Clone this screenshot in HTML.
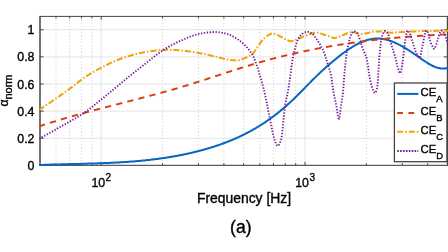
<!DOCTYPE html>
<html lang="en"><head><meta charset="utf-8"><title>Normalized absorption vs frequency</title>
<style>
html,body{margin:0;padding:0;background:#fff;}
body{width:448px;height:252px;overflow:hidden;position:relative;font-family:"Liberation Sans",sans-serif;}
svg text{font-family:"Liberation Sans",sans-serif;stroke:#000;stroke-width:0.35px;}
</style></head><body>
<svg width="448" height="252" style="position:absolute;left:0;top:0" font-family="'Liberation Sans', sans-serif" fill="#000">
<rect width="448" height="252" fill="#fff"/>
<line x1="55.99" x2="55.99" y1="16.2" y2="165.4" stroke="#d4d4d4" stroke-width="1" stroke-dasharray="1.2 2"/>
<line x1="69.63" x2="69.63" y1="16.2" y2="165.4" stroke="#d4d4d4" stroke-width="1" stroke-dasharray="1.2 2"/>
<line x1="81.45" x2="81.45" y1="16.2" y2="165.4" stroke="#d4d4d4" stroke-width="1" stroke-dasharray="1.2 2"/>
<line x1="91.88" x2="91.88" y1="16.2" y2="165.4" stroke="#d4d4d4" stroke-width="1" stroke-dasharray="1.2 2"/>
<line x1="162.56" x2="162.56" y1="16.2" y2="165.4" stroke="#d4d4d4" stroke-width="1" stroke-dasharray="1.2 2"/>
<line x1="198.46" x2="198.46" y1="16.2" y2="165.4" stroke="#d4d4d4" stroke-width="1" stroke-dasharray="1.2 2"/>
<line x1="223.92" x2="223.92" y1="16.2" y2="165.4" stroke="#d4d4d4" stroke-width="1" stroke-dasharray="1.2 2"/>
<line x1="243.67" x2="243.67" y1="16.2" y2="165.4" stroke="#d4d4d4" stroke-width="1" stroke-dasharray="1.2 2"/>
<line x1="259.81" x2="259.81" y1="16.2" y2="165.4" stroke="#d4d4d4" stroke-width="1" stroke-dasharray="1.2 2"/>
<line x1="273.46" x2="273.46" y1="16.2" y2="165.4" stroke="#d4d4d4" stroke-width="1" stroke-dasharray="1.2 2"/>
<line x1="285.28" x2="285.28" y1="16.2" y2="165.4" stroke="#d4d4d4" stroke-width="1" stroke-dasharray="1.2 2"/>
<line x1="295.71" x2="295.71" y1="16.2" y2="165.4" stroke="#d4d4d4" stroke-width="1" stroke-dasharray="1.2 2"/>
<line x1="366.39" x2="366.39" y1="16.2" y2="165.4" stroke="#d4d4d4" stroke-width="1" stroke-dasharray="1.2 2"/>
<line x1="402.28" x2="402.28" y1="16.2" y2="165.4" stroke="#d4d4d4" stroke-width="1" stroke-dasharray="1.2 2"/>
<line x1="427.75" x2="427.75" y1="16.2" y2="165.4" stroke="#d4d4d4" stroke-width="1" stroke-dasharray="1.2 2"/>
<line x1="101.21" x2="101.21" y1="16.2" y2="165.4" stroke="#e5e5e5" stroke-width="1"/>
<line x1="305.03" x2="305.03" y1="16.2" y2="165.4" stroke="#e5e5e5" stroke-width="1"/>
<line x1="39.9" x2="447.5" y1="138.27" y2="138.27" stroke="#e5e5e5" stroke-width="1"/>
<line x1="39.9" x2="447.5" y1="111.15" y2="111.15" stroke="#e5e5e5" stroke-width="1"/>
<line x1="39.9" x2="447.5" y1="84.02" y2="84.02" stroke="#e5e5e5" stroke-width="1"/>
<line x1="39.9" x2="447.5" y1="56.89" y2="56.89" stroke="#e5e5e5" stroke-width="1"/>
<line x1="39.9" x2="447.5" y1="29.76" y2="29.76" stroke="#e5e5e5" stroke-width="1"/>
<g stroke="#464646" fill="none">
<line x1="40.0" x2="40.0" y1="15.9" y2="165.9" stroke-width="1.5"/>
<line x1="39.9" x2="448.0" y1="16.4" y2="16.4" stroke-width="1"/>
<line x1="39.9" x2="448.0" y1="165.4" y2="165.4" stroke-width="1.1" stroke="#5c5c5c"/>
<line x1="447.5" x2="447.5" y1="16.2" y2="165.4" stroke-width="1.4"/>
<line x1="55.99" x2="55.99" y1="16.2" y2="18.4" stroke-width="1"/>
<line x1="55.99" x2="55.99" y1="165.4" y2="163.2" stroke-width="1"/>
<line x1="69.63" x2="69.63" y1="16.2" y2="18.4" stroke-width="1"/>
<line x1="69.63" x2="69.63" y1="165.4" y2="163.2" stroke-width="1"/>
<line x1="81.45" x2="81.45" y1="16.2" y2="18.4" stroke-width="1"/>
<line x1="81.45" x2="81.45" y1="165.4" y2="163.2" stroke-width="1"/>
<line x1="91.88" x2="91.88" y1="16.2" y2="18.4" stroke-width="1"/>
<line x1="91.88" x2="91.88" y1="165.4" y2="163.2" stroke-width="1"/>
<line x1="162.56" x2="162.56" y1="16.2" y2="18.4" stroke-width="1"/>
<line x1="162.56" x2="162.56" y1="165.4" y2="163.2" stroke-width="1"/>
<line x1="198.46" x2="198.46" y1="16.2" y2="18.4" stroke-width="1"/>
<line x1="198.46" x2="198.46" y1="165.4" y2="163.2" stroke-width="1"/>
<line x1="223.92" x2="223.92" y1="16.2" y2="18.4" stroke-width="1"/>
<line x1="223.92" x2="223.92" y1="165.4" y2="163.2" stroke-width="1"/>
<line x1="243.67" x2="243.67" y1="16.2" y2="18.4" stroke-width="1"/>
<line x1="243.67" x2="243.67" y1="165.4" y2="163.2" stroke-width="1"/>
<line x1="259.81" x2="259.81" y1="16.2" y2="18.4" stroke-width="1"/>
<line x1="259.81" x2="259.81" y1="165.4" y2="163.2" stroke-width="1"/>
<line x1="273.46" x2="273.46" y1="16.2" y2="18.4" stroke-width="1"/>
<line x1="273.46" x2="273.46" y1="165.4" y2="163.2" stroke-width="1"/>
<line x1="285.28" x2="285.28" y1="16.2" y2="18.4" stroke-width="1"/>
<line x1="285.28" x2="285.28" y1="165.4" y2="163.2" stroke-width="1"/>
<line x1="295.71" x2="295.71" y1="16.2" y2="18.4" stroke-width="1"/>
<line x1="295.71" x2="295.71" y1="165.4" y2="163.2" stroke-width="1"/>
<line x1="366.39" x2="366.39" y1="16.2" y2="18.4" stroke-width="1"/>
<line x1="366.39" x2="366.39" y1="165.4" y2="163.2" stroke-width="1"/>
<line x1="402.28" x2="402.28" y1="16.2" y2="18.4" stroke-width="1"/>
<line x1="402.28" x2="402.28" y1="165.4" y2="163.2" stroke-width="1"/>
<line x1="427.75" x2="427.75" y1="16.2" y2="18.4" stroke-width="1"/>
<line x1="427.75" x2="427.75" y1="165.4" y2="163.2" stroke-width="1"/>
<line x1="101.21" x2="101.21" y1="16.2" y2="19.7" stroke-width="1"/>
<line x1="101.21" x2="101.21" y1="165.4" y2="161.9" stroke-width="1"/>
<line x1="305.03" x2="305.03" y1="16.2" y2="19.7" stroke-width="1"/>
<line x1="305.03" x2="305.03" y1="165.4" y2="161.9" stroke-width="1"/>
<line x1="39.9" x2="43.6" y1="138.27" y2="138.27" stroke-width="1"/>
<line x1="447.5" x2="443.8" y1="138.27" y2="138.27" stroke-width="1"/>
<line x1="39.9" x2="43.6" y1="111.15" y2="111.15" stroke-width="1"/>
<line x1="447.5" x2="443.8" y1="111.15" y2="111.15" stroke-width="1"/>
<line x1="39.9" x2="43.6" y1="84.02" y2="84.02" stroke-width="1"/>
<line x1="447.5" x2="443.8" y1="84.02" y2="84.02" stroke-width="1"/>
<line x1="39.9" x2="43.6" y1="56.89" y2="56.89" stroke-width="1"/>
<line x1="447.5" x2="443.8" y1="56.89" y2="56.89" stroke-width="1"/>
<line x1="39.9" x2="43.6" y1="29.76" y2="29.76" stroke-width="1"/>
<line x1="447.5" x2="443.8" y1="29.76" y2="29.76" stroke-width="1"/>
</g>
<clipPath id="c"><rect x="39.4" y="15.2" width="409.1" height="151.8"/></clipPath>
<g clip-path="url(#c)" fill="none" stroke-width="2" stroke-linejoin="round">
<path d="M39.0 165.0 L39.5 165.0 L40.0 165.0 L40.5 165.0 L41.0 165.0 L41.5 164.9 L42.0 164.9 L42.5 164.9 L43.0 164.9 L43.5 164.9 L44.0 164.9 L44.5 164.8 L45.0 164.8 L45.5 164.8 L46.0 164.8 L46.5 164.8 L47.0 164.8 L47.5 164.7 L48.0 164.7 L48.5 164.7 L49.0 164.7 L49.5 164.7 L50.0 164.7 L50.5 164.6 L51.0 164.6 L51.5 164.6 L52.0 164.6 L52.5 164.6 L53.0 164.6 L53.5 164.5 L54.0 164.5 L54.5 164.5 L55.0 164.5 L55.5 164.5 L56.0 164.5 L56.5 164.5 L57.0 164.4 L57.5 164.4 L58.0 164.4 L58.5 164.4 L59.0 164.4 L59.5 164.4 L60.0 164.4 L60.5 164.4 L61.0 164.3 L61.5 164.3 L62.0 164.3 L62.5 164.3 L63.0 164.3 L63.5 164.3 L64.0 164.3 L64.5 164.3 L65.0 164.2 L65.5 164.2 L66.0 164.2 L66.5 164.2 L67.0 164.2 L67.5 164.2 L68.0 164.2 L68.5 164.2 L69.0 164.1 L69.5 164.1 L70.0 164.1 L70.5 164.1 L71.0 164.1 L71.5 164.1 L72.0 164.1 L72.5 164.1 L73.0 164.0 L73.5 164.0 L74.0 164.0 L74.5 164.0 L75.0 164.0 L75.5 164.0 L76.0 164.0 L76.5 164.0 L77.0 163.9 L77.5 163.9 L78.0 163.9 L78.5 163.9 L79.0 163.9 L79.5 163.9 L80.0 163.9 L80.5 163.9 L81.0 163.8 L81.5 163.8 L82.0 163.8 L82.5 163.8 L83.0 163.8 L83.5 163.8 L84.0 163.8 L84.5 163.7 L85.0 163.7 L85.5 163.7 L86.0 163.7 L86.5 163.7 L87.0 163.7 L87.5 163.7 L88.0 163.6 L88.5 163.6 L89.0 163.6 L89.5 163.6 L90.0 163.6 L90.5 163.6 L91.0 163.6 L91.5 163.5 L92.0 163.5 L92.5 163.5 L93.0 163.5 L93.5 163.5 L94.0 163.5 L94.5 163.5 L95.0 163.4 L95.5 163.4 L96.0 163.4 L96.5 163.4 L97.0 163.4 L97.5 163.4 L98.0 163.3 L98.5 163.3 L99.0 163.3 L99.5 163.3 L100.0 163.3 L100.5 163.2 L101.0 163.2 L101.5 163.2 L102.0 163.2 L102.5 163.2 L103.0 163.2 L103.5 163.1 L104.0 163.1 L104.5 163.1 L105.0 163.1 L105.5 163.1 L106.0 163.0 L106.5 163.0 L107.0 163.0 L107.5 163.0 L108.0 162.9 L108.5 162.9 L109.0 162.9 L109.5 162.9 L110.0 162.9 L110.5 162.8 L111.0 162.8 L111.5 162.8 L112.0 162.8 L112.5 162.7 L113.0 162.7 L113.5 162.7 L114.0 162.7 L114.5 162.6 L115.0 162.6 L115.5 162.6 L116.0 162.6 L116.5 162.5 L117.0 162.5 L117.5 162.5 L118.0 162.4 L118.5 162.4 L119.0 162.4 L119.5 162.4 L120.0 162.3 L120.5 162.3 L121.0 162.3 L121.5 162.2 L122.0 162.2 L122.5 162.2 L123.0 162.2 L123.5 162.1 L124.0 162.1 L124.5 162.1 L125.0 162.0 L125.5 162.0 L126.0 162.0 L126.5 161.9 L127.0 161.9 L127.5 161.9 L128.0 161.8 L128.5 161.8 L129.0 161.7 L129.5 161.7 L130.0 161.7 L130.5 161.6 L131.0 161.6 L131.5 161.6 L132.0 161.5 L132.5 161.5 L133.0 161.4 L133.5 161.4 L134.0 161.4 L134.5 161.3 L135.0 161.3 L135.5 161.2 L136.0 161.2 L136.5 161.2 L137.0 161.1 L137.5 161.1 L138.0 161.0 L138.5 161.0 L139.0 160.9 L139.5 160.9 L140.0 160.8 L140.5 160.8 L141.0 160.7 L141.5 160.7 L142.0 160.7 L142.5 160.6 L143.0 160.6 L143.5 160.5 L144.0 160.5 L144.5 160.4 L145.0 160.4 L145.5 160.3 L146.0 160.3 L146.5 160.2 L147.0 160.1 L147.5 160.1 L148.0 160.0 L148.5 160.0 L149.0 159.9 L149.5 159.9 L150.0 159.8 L150.5 159.8 L151.0 159.7 L151.5 159.6 L152.0 159.6 L152.5 159.5 L153.0 159.5 L153.5 159.4 L154.0 159.3 L154.5 159.3 L155.0 159.2 L155.5 159.2 L156.0 159.1 L156.5 159.0 L157.0 159.0 L157.5 158.9 L158.0 158.8 L158.5 158.8 L159.0 158.7 L159.5 158.6 L160.0 158.6 L160.5 158.5 L161.0 158.4 L161.5 158.3 L162.0 158.3 L162.5 158.2 L163.0 158.1 L163.5 158.1 L164.0 158.0 L164.5 157.9 L165.0 157.8 L165.5 157.8 L166.0 157.7 L166.5 157.6 L167.0 157.5 L167.5 157.5 L168.0 157.4 L168.5 157.3 L169.0 157.2 L169.5 157.1 L170.0 157.0 L170.5 157.0 L171.0 156.9 L171.5 156.8 L172.0 156.7 L172.5 156.6 L173.0 156.5 L173.5 156.5 L174.0 156.4 L174.5 156.3 L175.0 156.2 L175.5 156.1 L176.0 156.0 L176.5 155.9 L177.0 155.8 L177.5 155.7 L178.0 155.6 L178.5 155.5 L179.0 155.4 L179.5 155.3 L180.0 155.3 L180.5 155.2 L181.0 155.1 L181.5 155.0 L182.0 154.9 L182.5 154.8 L183.0 154.7 L183.5 154.5 L184.0 154.4 L184.5 154.3 L185.0 154.2 L185.5 154.1 L186.0 154.0 L186.5 153.9 L187.0 153.8 L187.5 153.7 L188.0 153.6 L188.5 153.5 L189.0 153.4 L189.5 153.3 L190.0 153.1 L190.5 153.0 L191.0 152.9 L191.5 152.8 L192.0 152.7 L192.5 152.6 L193.0 152.4 L193.5 152.3 L194.0 152.2 L194.5 152.1 L195.0 152.0 L195.5 151.8 L196.0 151.7 L196.5 151.6 L197.0 151.5 L197.5 151.3 L198.0 151.2 L198.5 151.1 L199.0 150.9 L199.5 150.8 L200.0 150.7 L200.5 150.6 L201.0 150.4 L201.5 150.3 L202.0 150.2 L202.5 150.0 L203.0 149.9 L203.5 149.7 L204.0 149.6 L204.5 149.5 L205.0 149.3 L205.5 149.2 L206.0 149.0 L206.5 148.9 L207.0 148.7 L207.5 148.6 L208.0 148.5 L208.5 148.3 L209.0 148.2 L209.5 148.0 L210.0 147.9 L210.5 147.7 L211.0 147.6 L211.5 147.4 L212.0 147.2 L212.5 147.1 L213.0 146.9 L213.5 146.8 L214.0 146.6 L214.5 146.4 L215.0 146.3 L215.5 146.1 L216.0 146.0 L216.5 145.8 L217.0 145.6 L217.5 145.5 L218.0 145.3 L218.5 145.1 L219.0 144.9 L219.5 144.8 L220.0 144.6 L220.5 144.4 L221.0 144.2 L221.5 144.1 L222.0 143.9 L222.5 143.7 L223.0 143.5 L223.5 143.3 L224.0 143.2 L224.5 143.0 L225.0 142.8 L225.5 142.6 L226.0 142.4 L226.5 142.2 L227.0 142.0 L227.5 141.8 L228.0 141.6 L228.5 141.4 L229.0 141.2 L229.5 141.0 L230.0 140.8 L230.5 140.6 L231.0 140.4 L231.5 140.2 L232.0 140.0 L232.5 139.8 L233.0 139.6 L233.5 139.4 L234.0 139.1 L234.5 138.9 L235.0 138.7 L235.5 138.5 L236.0 138.3 L236.5 138.1 L237.0 137.8 L237.5 137.6 L238.0 137.4 L238.5 137.1 L239.0 136.9 L239.5 136.7 L240.0 136.4 L240.5 136.2 L241.0 136.0 L241.5 135.7 L242.0 135.5 L242.5 135.2 L243.0 135.0 L243.5 134.8 L244.0 134.5 L244.5 134.3 L245.0 134.0 L245.5 133.7 L246.0 133.5 L246.5 133.2 L247.0 133.0 L247.5 132.7 L248.0 132.5 L248.5 132.2 L249.0 131.9 L249.5 131.6 L250.0 131.4 L250.5 131.1 L251.0 130.8 L251.5 130.6 L252.0 130.3 L252.5 130.0 L253.0 129.7 L253.5 129.4 L254.0 129.1 L254.5 128.8 L255.0 128.6 L255.5 128.3 L256.0 128.0 L256.5 127.7 L257.0 127.4 L257.5 127.1 L258.0 126.8 L258.5 126.5 L259.0 126.2 L259.5 125.8 L260.0 125.5 L260.5 125.2 L261.0 124.9 L261.5 124.6 L262.0 124.3 L262.5 123.9 L263.0 123.6 L263.5 123.3 L264.0 123.0 L264.5 122.6 L265.0 122.3 L265.5 122.0 L266.0 121.6 L266.5 121.3 L267.0 120.9 L267.5 120.6 L268.0 120.2 L268.5 119.9 L269.0 119.5 L269.5 119.2 L270.0 118.8 L270.5 118.5 L271.0 118.1 L271.5 117.7 L272.0 117.4 L272.5 117.0 L273.0 116.6 L273.5 116.3 L274.0 115.9 L274.5 115.5 L275.0 115.1 L275.5 114.7 L276.0 114.4 L276.5 114.0 L277.0 113.6 L277.5 113.2 L278.0 112.8 L278.5 112.4 L279.0 112.0 L279.5 111.6 L280.0 111.2 L280.5 110.8 L281.0 110.3 L281.5 109.9 L282.0 109.5 L282.5 109.1 L283.0 108.7 L283.5 108.3 L284.0 107.8 L284.5 107.4 L285.0 107.0 L285.5 106.5 L286.0 106.1 L286.5 105.6 L287.0 105.2 L287.5 104.8 L288.0 104.3 L288.5 103.9 L289.0 103.4 L289.5 102.9 L290.0 102.5 L290.5 102.0 L291.0 101.5 L291.5 101.1 L292.0 100.6 L292.5 100.1 L293.0 99.7 L293.5 99.2 L294.0 98.7 L294.5 98.2 L295.0 97.7 L295.5 97.2 L296.0 96.7 L296.5 96.2 L297.0 95.8 L297.5 95.3 L298.0 94.8 L298.5 94.3 L299.0 93.8 L299.5 93.2 L300.0 92.7 L300.5 92.2 L301.0 91.7 L301.5 91.2 L302.0 90.7 L302.5 90.2 L303.0 89.7 L303.5 89.2 L304.0 88.7 L304.5 88.2 L305.0 87.7 L305.5 87.1 L306.0 86.6 L306.5 86.1 L307.0 85.6 L307.5 85.1 L308.0 84.6 L308.5 84.1 L309.0 83.6 L309.5 83.1 L310.0 82.6 L310.5 82.1 L311.0 81.5 L311.5 81.0 L312.0 80.5 L312.5 80.0 L313.0 79.5 L313.5 79.0 L314.0 78.6 L314.5 78.1 L315.0 77.6 L315.5 77.1 L316.0 76.6 L316.5 76.1 L317.0 75.6 L317.5 75.1 L318.0 74.7 L318.5 74.2 L319.0 73.7 L319.5 73.2 L320.0 72.8 L320.5 72.3 L321.0 71.8 L321.5 71.4 L322.0 70.9 L322.5 70.4 L323.0 70.0 L323.5 69.5 L324.0 69.1 L324.5 68.6 L325.0 68.2 L325.5 67.7 L326.0 67.3 L326.5 66.8 L327.0 66.4 L327.5 65.9 L328.0 65.5 L328.5 65.1 L329.0 64.6 L329.5 64.2 L330.0 63.8 L330.5 63.3 L331.0 62.9 L331.5 62.5 L332.0 62.1 L332.5 61.6 L333.0 61.2 L333.5 60.8 L334.0 60.4 L334.5 60.0 L335.0 59.6 L335.5 59.2 L336.0 58.8 L336.5 58.4 L337.0 58.0 L337.5 57.6 L338.0 57.2 L338.5 56.8 L339.0 56.4 L339.5 56.0 L340.0 55.6 L340.5 55.2 L341.0 54.8 L341.5 54.4 L342.0 54.0 L342.5 53.7 L343.0 53.3 L343.5 52.9 L344.0 52.6 L344.5 52.2 L345.0 51.8 L345.5 51.5 L346.0 51.1 L346.5 50.8 L347.0 50.4 L347.5 50.1 L348.0 49.7 L348.5 49.4 L349.0 49.1 L349.5 48.7 L350.0 48.4 L350.5 48.1 L351.0 47.8 L351.5 47.5 L352.0 47.2 L352.5 46.8 L353.0 46.5 L353.5 46.2 L354.0 46.0 L354.5 45.7 L355.0 45.4 L355.5 45.1 L356.0 44.8 L356.5 44.6 L357.0 44.3 L357.5 44.0 L358.0 43.8 L358.5 43.5 L359.0 43.3 L359.5 43.1 L360.0 42.8 L360.5 42.6 L361.0 42.4 L361.5 42.2 L362.0 41.9 L362.5 41.7 L363.0 41.5 L363.5 41.3 L364.0 41.2 L364.5 41.0 L365.0 40.8 L365.5 40.6 L366.0 40.5 L366.5 40.3 L367.0 40.1 L367.5 40.0 L368.0 39.9 L368.5 39.7 L369.0 39.6 L369.5 39.5 L370.0 39.4 L370.5 39.3 L371.0 39.2 L371.5 39.1 L372.0 39.0 L372.5 38.9 L373.0 38.8 L373.5 38.8 L374.0 38.7 L374.5 38.7 L375.0 38.6 L375.5 38.6 L376.0 38.6 L376.5 38.5 L377.0 38.5 L377.5 38.5 L378.0 38.5 L378.5 38.5 L379.0 38.6 L379.5 38.6 L380.0 38.6 L380.5 38.7 L381.0 38.7 L381.5 38.8 L382.0 38.8 L382.5 38.9 L383.0 39.0 L383.5 39.1 L384.0 39.2 L384.5 39.3 L385.0 39.4 L385.5 39.5 L386.0 39.6 L386.5 39.7 L387.0 39.8 L387.5 40.0 L388.0 40.1 L388.5 40.3 L389.0 40.4 L389.5 40.6 L390.0 40.7 L390.5 40.9 L391.0 41.1 L391.5 41.3 L392.0 41.5 L392.5 41.7 L393.0 41.9 L393.5 42.1 L394.0 42.3 L394.5 42.5 L395.0 42.7 L395.5 42.9 L396.0 43.2 L396.5 43.4 L397.0 43.6 L397.5 43.9 L398.0 44.1 L398.5 44.4 L399.0 44.6 L399.5 44.9 L400.0 45.1 L400.5 45.4 L401.0 45.7 L401.5 45.9 L402.0 46.2 L402.5 46.5 L403.0 46.8 L403.5 47.1 L404.0 47.4 L404.5 47.7 L405.0 48.0 L405.5 48.3 L406.0 48.6 L406.5 48.9 L407.0 49.2 L407.5 49.5 L408.0 49.8 L408.5 50.1 L409.0 50.4 L409.5 50.8 L410.0 51.1 L410.5 51.4 L411.0 51.8 L411.5 52.1 L412.0 52.4 L412.5 52.7 L413.0 53.1 L413.5 53.4 L414.0 53.8 L414.5 54.1 L415.0 54.4 L415.5 54.8 L416.0 55.1 L416.5 55.5 L417.0 55.8 L417.5 56.2 L418.0 56.5 L418.5 56.9 L419.0 57.2 L419.5 57.6 L420.0 57.9 L420.5 58.3 L421.0 58.6 L421.5 59.0 L422.0 59.3 L422.5 59.7 L423.0 60.0 L423.5 60.4 L424.0 60.7 L424.5 61.0 L425.0 61.4 L425.5 61.7 L426.0 62.0 L426.5 62.3 L427.0 62.7 L427.5 63.0 L428.0 63.3 L428.5 63.6 L429.0 63.9 L429.5 64.2 L430.0 64.5 L430.5 64.7 L431.0 65.0 L431.5 65.3 L432.0 65.5 L432.5 65.8 L433.0 66.0 L433.5 66.2 L434.0 66.5 L434.5 66.7 L435.0 66.9 L435.5 67.1 L436.0 67.3 L436.5 67.4 L437.0 67.6 L437.5 67.8 L438.0 67.9 L438.5 68.0 L439.0 68.1 L439.5 68.2 L440.0 68.3 L440.5 68.4 L441.0 68.5 L441.5 68.5 L442.0 68.6 L442.5 68.6 L443.0 68.6 L443.5 68.6 L444.0 68.6 L444.5 68.5 L445.0 68.5 L445.5 68.4 L446.0 68.3 L446.5 68.2 L447.0 68.1 L447.5 67.9 L448.0 67.8 L448.5 67.6 L449.0 67.4" stroke="#0666c2"/>
<path d="M39.0 126.4 L39.5 126.3 L40.0 126.1 L40.5 125.9 L41.0 125.8 L41.5 125.6 L42.0 125.4 L42.5 125.3 L43.0 125.1 L43.5 124.9 L44.0 124.8 L44.5 124.6 L45.0 124.5 L45.5 124.3 L46.0 124.1 L46.5 124.0 L47.0 123.8 L47.5 123.7 L48.0 123.5 L48.5 123.3 L49.0 123.2 L49.5 123.0 L50.0 122.9 L50.5 122.7 L51.0 122.5 L51.5 122.4 L52.0 122.2 L52.5 122.1 L53.0 121.9 L53.5 121.8 L54.0 121.6 L54.5 121.5 L55.0 121.3 L55.5 121.2 L56.0 121.0 L56.5 120.9 L57.0 120.7 L57.5 120.6 L58.0 120.4 L58.5 120.2 L59.0 120.1 L59.5 119.9 L60.0 119.8 L60.5 119.6 L61.0 119.5 L61.5 119.4 L62.0 119.2 L62.5 119.1 L63.0 118.9 L63.5 118.8 L64.0 118.6 L64.5 118.5 L65.0 118.3 L65.5 118.2 L66.0 118.0 L66.5 117.9 L67.0 117.7 L67.5 117.6 L68.0 117.5 L68.5 117.3 L69.0 117.2 L69.5 117.0 L70.0 116.9 L70.5 116.7 L71.0 116.6 L71.5 116.4 L72.0 116.3 L72.5 116.2 L73.0 116.0 L73.5 115.9 L74.0 115.7 L74.5 115.6 L75.0 115.5 L75.5 115.3 L76.0 115.2 L76.5 115.0 L77.0 114.9 L77.5 114.8 L78.0 114.6 L78.5 114.5 L79.0 114.3 L79.5 114.2 L80.0 114.1 L80.5 113.9 L81.0 113.8 L81.5 113.7 L82.0 113.5 L82.5 113.4 L83.0 113.3 L83.5 113.1 L84.0 113.0 L84.5 112.8 L85.0 112.7 L85.5 112.6 L86.0 112.4 L86.5 112.3 L87.0 112.2 L87.5 112.0 L88.0 111.9 L88.5 111.8 L89.0 111.6 L89.5 111.5 L90.0 111.4 L90.5 111.2 L91.0 111.1 L91.5 111.0 L92.0 110.8 L92.5 110.7 L93.0 110.6 L93.5 110.4 L94.0 110.3 L94.5 110.2 L95.0 110.0 L95.5 109.9 L96.0 109.8 L96.5 109.6 L97.0 109.5 L97.5 109.4 L98.0 109.2 L98.5 109.1 L99.0 109.0 L99.5 108.9 L100.0 108.7 L100.5 108.6 L101.0 108.5 L101.5 108.3 L102.0 108.2 L102.5 108.1 L103.0 107.9 L103.5 107.8 L104.0 107.7 L104.5 107.6 L105.0 107.4 L105.5 107.3 L106.0 107.2 L106.5 107.0 L107.0 106.9 L107.5 106.8 L108.0 106.6 L108.5 106.5 L109.0 106.4 L109.5 106.3 L110.0 106.1 L110.5 106.0 L111.0 105.9 L111.5 105.7 L112.0 105.6 L112.5 105.5 L113.0 105.4 L113.5 105.2 L114.0 105.1 L114.5 105.0 L115.0 104.8 L115.5 104.7 L116.0 104.6 L116.5 104.5 L117.0 104.3 L117.5 104.2 L118.0 104.1 L118.5 104.0 L119.0 103.8 L119.5 103.7 L120.0 103.6 L120.5 103.4 L121.0 103.3 L121.5 103.2 L122.0 103.1 L122.5 102.9 L123.0 102.8 L123.5 102.7 L124.0 102.5 L124.5 102.4 L125.0 102.3 L125.5 102.2 L126.0 102.0 L126.5 101.9 L127.0 101.8 L127.5 101.6 L128.0 101.5 L128.5 101.4 L129.0 101.3 L129.5 101.1 L130.0 101.0 L130.5 100.9 L131.0 100.7 L131.5 100.6 L132.0 100.5 L132.5 100.4 L133.0 100.2 L133.5 100.1 L134.0 100.0 L134.5 99.8 L135.0 99.7 L135.5 99.6 L136.0 99.5 L136.5 99.3 L137.0 99.2 L137.5 99.1 L138.0 98.9 L138.5 98.8 L139.0 98.7 L139.5 98.6 L140.0 98.4 L140.5 98.3 L141.0 98.2 L141.5 98.0 L142.0 97.9 L142.5 97.8 L143.0 97.6 L143.5 97.5 L144.0 97.4 L144.5 97.2 L145.0 97.1 L145.5 97.0 L146.0 96.9 L146.5 96.7 L147.0 96.6 L147.5 96.5 L148.0 96.3 L148.5 96.2 L149.0 96.1 L149.5 95.9 L150.0 95.8 L150.5 95.7 L151.0 95.5 L151.5 95.4 L152.0 95.3 L152.5 95.1 L153.0 95.0 L153.5 94.9 L154.0 94.7 L154.5 94.6 L155.0 94.5 L155.5 94.3 L156.0 94.2 L156.5 94.1 L157.0 93.9 L157.5 93.8 L158.0 93.6 L158.5 93.5 L159.0 93.4 L159.5 93.2 L160.0 93.1 L160.5 93.0 L161.0 92.8 L161.5 92.7 L162.0 92.6 L162.5 92.4 L163.0 92.3 L163.5 92.1 L164.0 92.0 L164.5 91.9 L165.0 91.7 L165.5 91.6 L166.0 91.4 L166.5 91.3 L167.0 91.2 L167.5 91.0 L168.0 90.9 L168.5 90.7 L169.0 90.6 L169.5 90.5 L170.0 90.3 L170.5 90.2 L171.0 90.0 L171.5 89.9 L172.0 89.8 L172.5 89.6 L173.0 89.5 L173.5 89.3 L174.0 89.2 L174.5 89.0 L175.0 88.9 L175.5 88.7 L176.0 88.6 L176.5 88.5 L177.0 88.3 L177.5 88.2 L178.0 88.0 L178.5 87.9 L179.0 87.7 L179.5 87.6 L180.0 87.4 L180.5 87.3 L181.0 87.1 L181.5 87.0 L182.0 86.8 L182.5 86.7 L183.0 86.5 L183.5 86.4 L184.0 86.2 L184.5 86.1 L185.0 85.9 L185.5 85.8 L186.0 85.6 L186.5 85.5 L187.0 85.3 L187.5 85.2 L188.0 85.0 L188.5 84.9 L189.0 84.7 L189.5 84.6 L190.0 84.4 L190.5 84.2 L191.0 84.1 L191.5 83.9 L192.0 83.8 L192.5 83.6 L193.0 83.5 L193.5 83.3 L194.0 83.1 L194.5 83.0 L195.0 82.8 L195.5 82.7 L196.0 82.5 L196.5 82.4 L197.0 82.2 L197.5 82.0 L198.0 81.9 L198.5 81.7 L199.0 81.6 L199.5 81.4 L200.0 81.2 L200.5 81.1 L201.0 80.9 L201.5 80.8 L202.0 80.6 L202.5 80.4 L203.0 80.3 L203.5 80.1 L204.0 79.9 L204.5 79.8 L205.0 79.6 L205.5 79.5 L206.0 79.3 L206.5 79.1 L207.0 79.0 L207.5 78.8 L208.0 78.7 L208.5 78.5 L209.0 78.3 L209.5 78.2 L210.0 78.0 L210.5 77.8 L211.0 77.7 L211.5 77.5 L212.0 77.3 L212.5 77.2 L213.0 77.0 L213.5 76.9 L214.0 76.7 L214.5 76.5 L215.0 76.4 L215.5 76.2 L216.0 76.0 L216.5 75.9 L217.0 75.7 L217.5 75.5 L218.0 75.4 L218.5 75.2 L219.0 75.1 L219.5 74.9 L220.0 74.7 L220.5 74.6 L221.0 74.4 L221.5 74.2 L222.0 74.1 L222.5 73.9 L223.0 73.7 L223.5 73.6 L224.0 73.4 L224.5 73.3 L225.0 73.1 L225.5 72.9 L226.0 72.8 L226.5 72.6 L227.0 72.4 L227.5 72.3 L228.0 72.1 L228.5 71.9 L229.0 71.8 L229.5 71.6 L230.0 71.5 L230.5 71.3 L231.0 71.1 L231.5 71.0 L232.0 70.8 L232.5 70.7 L233.0 70.5 L233.5 70.3 L234.0 70.2 L234.5 70.0 L235.0 69.9 L235.5 69.7 L236.0 69.5 L236.5 69.4 L237.0 69.2 L237.5 69.1 L238.0 68.9 L238.5 68.7 L239.0 68.6 L239.5 68.4 L240.0 68.3 L240.5 68.1 L241.0 67.9 L241.5 67.8 L242.0 67.6 L242.5 67.5 L243.0 67.3 L243.5 67.2 L244.0 67.0 L244.5 66.9 L245.0 66.7 L245.5 66.5 L246.0 66.4 L246.5 66.2 L247.0 66.1 L247.5 65.9 L248.0 65.8 L248.5 65.6 L249.0 65.5 L249.5 65.3 L250.0 65.2 L250.5 65.0 L251.0 64.9 L251.5 64.7 L252.0 64.6 L252.5 64.4 L253.0 64.3 L253.5 64.1 L254.0 64.0 L254.5 63.8 L255.0 63.7 L255.5 63.5 L256.0 63.4 L256.5 63.2 L257.0 63.1 L257.5 62.9 L258.0 62.8 L258.5 62.7 L259.0 62.5 L259.5 62.4 L260.0 62.2 L260.5 62.1 L261.0 61.9 L261.5 61.8 L262.0 61.7 L262.5 61.5 L263.0 61.4 L263.5 61.2 L264.0 61.1 L264.5 61.0 L265.0 60.8 L265.5 60.7 L266.0 60.6 L266.5 60.4 L267.0 60.3 L267.5 60.1 L268.0 60.0 L268.5 59.9 L269.0 59.7 L269.5 59.6 L270.0 59.5 L270.5 59.3 L271.0 59.2 L271.5 59.1 L272.0 58.9 L272.5 58.8 L273.0 58.7 L273.5 58.5 L274.0 58.4 L274.5 58.3 L275.0 58.2 L275.5 58.0 L276.0 57.9 L276.5 57.8 L277.0 57.6 L277.5 57.5 L278.0 57.4 L278.5 57.3 L279.0 57.1 L279.5 57.0 L280.0 56.9 L280.5 56.8 L281.0 56.6 L281.5 56.5 L282.0 56.4 L282.5 56.3 L283.0 56.1 L283.5 56.0 L284.0 55.9 L284.5 55.8 L285.0 55.6 L285.5 55.5 L286.0 55.4 L286.5 55.3 L287.0 55.2 L287.5 55.0 L288.0 54.9 L288.5 54.8 L289.0 54.7 L289.5 54.6 L290.0 54.5 L290.5 54.3 L291.0 54.2 L291.5 54.1 L292.0 54.0 L292.5 53.9 L293.0 53.8 L293.5 53.6 L294.0 53.5 L294.5 53.4 L295.0 53.3 L295.5 53.2 L296.0 53.1 L296.5 53.0 L297.0 52.9 L297.5 52.7 L298.0 52.6 L298.5 52.5 L299.0 52.4 L299.5 52.3 L300.0 52.2 L300.5 52.1 L301.0 52.0 L301.5 51.9 L302.0 51.8 L302.5 51.7 L303.0 51.6 L303.5 51.4 L304.0 51.3 L304.5 51.2 L305.0 51.1 L305.5 51.0 L306.0 50.9 L306.5 50.8 L307.0 50.7 L307.5 50.6 L308.0 50.5 L308.5 50.4 L309.0 50.3 L309.5 50.2 L310.0 50.1 L310.5 50.0 L311.0 49.9 L311.5 49.8 L312.0 49.7 L312.5 49.6 L313.0 49.5 L313.5 49.4 L314.0 49.3 L314.5 49.2 L315.0 49.1 L315.5 49.0 L316.0 48.9 L316.5 48.8 L317.0 48.7 L317.5 48.6 L318.0 48.5 L318.5 48.4 L319.0 48.3 L319.5 48.2 L320.0 48.1 L320.5 48.0 L321.0 48.0 L321.5 47.9 L322.0 47.8 L322.5 47.7 L323.0 47.6 L323.5 47.5 L324.0 47.4 L324.5 47.3 L325.0 47.2 L325.5 47.1 L326.0 47.0 L326.5 47.0 L327.0 46.9 L327.5 46.8 L328.0 46.7 L328.5 46.6 L329.0 46.5 L329.5 46.4 L330.0 46.3 L330.5 46.3 L331.0 46.2 L331.5 46.1 L332.0 46.0 L332.5 45.9 L333.0 45.8 L333.5 45.7 L334.0 45.7 L334.5 45.6 L335.0 45.5 L335.5 45.4 L336.0 45.3 L336.5 45.2 L337.0 45.2 L337.5 45.1 L338.0 45.0 L338.5 44.9 L339.0 44.8 L339.5 44.8 L340.0 44.7 L340.5 44.6 L341.0 44.5 L341.5 44.4 L342.0 44.4 L342.5 44.3 L343.0 44.2 L343.5 44.1 L344.0 44.0 L344.5 44.0 L345.0 43.9 L345.5 43.8 L346.0 43.7 L346.5 43.7 L347.0 43.6 L347.5 43.5 L348.0 43.4 L348.5 43.4 L349.0 43.3 L349.5 43.2 L350.0 43.1 L350.5 43.1 L351.0 43.0 L351.5 42.9 L352.0 42.9 L352.5 42.8 L353.0 42.7 L353.5 42.6 L354.0 42.6 L354.5 42.5 L355.0 42.4 L355.5 42.4 L356.0 42.3 L356.5 42.2 L357.0 42.2 L357.5 42.1 L358.0 42.0 L358.5 42.0 L359.0 41.9 L359.5 41.8 L360.0 41.8 L360.5 41.7 L361.0 41.6 L361.5 41.6 L362.0 41.5 L362.5 41.4 L363.0 41.4 L363.5 41.3 L364.0 41.2 L364.5 41.2 L365.0 41.1 L365.5 41.0 L366.0 41.0 L366.5 40.9 L367.0 40.8 L367.5 40.8 L368.0 40.7 L368.5 40.7 L369.0 40.6 L369.5 40.5 L370.0 40.5 L370.5 40.4 L371.0 40.4 L371.5 40.3 L372.0 40.2 L372.5 40.2 L373.0 40.1 L373.5 40.1 L374.0 40.0 L374.5 39.9 L375.0 39.9 L375.5 39.8 L376.0 39.8 L376.5 39.7 L377.0 39.7 L377.5 39.6 L378.0 39.6 L378.5 39.5 L379.0 39.4 L379.5 39.4 L380.0 39.3 L380.5 39.3 L381.0 39.2 L381.5 39.2 L382.0 39.1 L382.5 39.1 L383.0 39.0 L383.5 39.0 L384.0 38.9 L384.5 38.9 L385.0 38.8 L385.5 38.7 L386.0 38.7 L386.5 38.6 L387.0 38.6 L387.5 38.5 L388.0 38.5 L388.5 38.4 L389.0 38.4 L389.5 38.3 L390.0 38.3 L390.5 38.2 L391.0 38.2 L391.5 38.2 L392.0 38.1 L392.5 38.1 L393.0 38.0 L393.5 38.0 L394.0 37.9 L394.5 37.9 L395.0 37.8 L395.5 37.8 L396.0 37.7 L396.5 37.7 L397.0 37.6 L397.5 37.6 L398.0 37.5 L398.5 37.5 L399.0 37.5 L399.5 37.4 L400.0 37.4 L400.5 37.3 L401.0 37.3 L401.5 37.2 L402.0 37.2 L402.5 37.2 L403.0 37.1 L403.5 37.1 L404.0 37.0 L404.5 37.0 L405.0 37.0 L405.5 36.9 L406.0 36.9 L406.5 36.8 L407.0 36.8 L407.5 36.8 L408.0 36.7 L408.5 36.7 L409.0 36.6 L409.5 36.6 L410.0 36.6 L410.5 36.5 L411.0 36.5 L411.5 36.4 L412.0 36.4 L412.5 36.4 L413.0 36.3 L413.5 36.3 L414.0 36.3 L414.5 36.2 L415.0 36.2 L415.5 36.1 L416.0 36.1 L416.5 36.1 L417.0 36.0 L417.5 36.0 L418.0 36.0 L418.5 35.9 L419.0 35.9 L419.5 35.9 L420.0 35.8 L420.5 35.8 L421.0 35.8 L421.5 35.7 L422.0 35.7 L422.5 35.7 L423.0 35.6 L423.5 35.6 L424.0 35.6 L424.5 35.5 L425.0 35.5 L425.5 35.5 L426.0 35.5 L426.5 35.4 L427.0 35.4 L427.5 35.4 L428.0 35.3 L428.5 35.3 L429.0 35.3 L429.5 35.2 L430.0 35.2 L430.5 35.2 L431.0 35.2 L431.5 35.1 L432.0 35.1 L432.5 35.1 L433.0 35.0 L433.5 35.0 L434.0 35.0 L434.5 35.0 L435.0 34.9 L435.5 34.9 L436.0 34.9 L436.5 34.9 L437.0 34.8 L437.5 34.8 L438.0 34.8 L438.5 34.8 L439.0 34.7 L439.5 34.7 L440.0 34.7 L440.5 34.7 L441.0 34.6 L441.5 34.6 L442.0 34.6 L442.5 34.6 L443.0 34.5 L443.5 34.5 L444.0 34.5 L444.5 34.5 L445.0 34.4 L445.5 34.4 L446.0 34.4 L446.5 34.4 L447.0 34.4 L447.5 34.3 L448.0 34.3 L448.5 34.3 L449.0 34.3" stroke="#d9400f" stroke-width="1.95" stroke-dasharray="6.3 5.2"/>
<path d="M39.0 110.0 L39.5 109.7 L40.0 109.3 L40.5 109.0 L41.0 108.7 L41.5 108.4 L42.0 108.0 L42.5 107.7 L43.0 107.4 L43.5 107.0 L44.0 106.7 L44.5 106.4 L45.0 106.0 L45.5 105.7 L46.0 105.4 L46.5 105.0 L47.0 104.7 L47.5 104.4 L48.0 104.0 L48.5 103.7 L49.0 103.3 L49.5 103.0 L50.0 102.7 L50.5 102.3 L51.0 102.0 L51.5 101.6 L52.0 101.3 L52.5 100.9 L53.0 100.6 L53.5 100.2 L54.0 99.9 L54.5 99.6 L55.0 99.2 L55.5 98.9 L56.0 98.5 L56.5 98.2 L57.0 97.8 L57.5 97.5 L58.0 97.1 L58.5 96.8 L59.0 96.4 L59.5 96.1 L60.0 95.7 L60.5 95.4 L61.0 95.0 L61.5 94.6 L62.0 94.3 L62.5 93.9 L63.0 93.6 L63.5 93.2 L64.0 92.9 L64.5 92.5 L65.0 92.2 L65.5 91.8 L66.0 91.4 L66.5 91.1 L67.0 90.7 L67.5 90.4 L68.0 90.0 L68.5 89.6 L69.0 89.3 L69.5 88.9 L70.0 88.5 L70.5 88.2 L71.0 87.8 L71.5 87.4 L72.0 87.0 L72.5 86.6 L73.0 86.2 L73.5 85.8 L74.0 85.5 L74.5 85.1 L75.0 84.7 L75.5 84.3 L76.0 83.9 L76.5 83.5 L77.0 83.1 L77.5 82.7 L78.0 82.3 L78.5 81.9 L79.0 81.5 L79.5 81.2 L80.0 80.8 L80.5 80.4 L81.0 80.0 L81.5 79.7 L82.0 79.3 L82.5 78.9 L83.0 78.6 L83.5 78.2 L84.0 77.9 L84.5 77.5 L85.0 77.2 L85.5 76.8 L86.0 76.5 L86.5 76.2 L87.0 75.9 L87.5 75.5 L88.0 75.2 L88.5 74.9 L89.0 74.6 L89.5 74.3 L90.0 74.0 L90.5 73.7 L91.0 73.4 L91.5 73.1 L92.0 72.8 L92.5 72.5 L93.0 72.2 L93.5 71.9 L94.0 71.6 L94.5 71.3 L95.0 71.1 L95.5 70.8 L96.0 70.5 L96.5 70.2 L97.0 69.9 L97.5 69.7 L98.0 69.4 L98.5 69.1 L99.0 68.8 L99.5 68.6 L100.0 68.3 L100.5 68.0 L101.0 67.8 L101.5 67.5 L102.0 67.2 L102.5 67.0 L103.0 66.7 L103.5 66.5 L104.0 66.2 L104.5 65.9 L105.0 65.7 L105.5 65.4 L106.0 65.2 L106.5 64.9 L107.0 64.7 L107.5 64.5 L108.0 64.2 L108.5 64.0 L109.0 63.7 L109.5 63.5 L110.0 63.3 L110.5 63.0 L111.0 62.8 L111.5 62.6 L112.0 62.3 L112.5 62.1 L113.0 61.9 L113.5 61.7 L114.0 61.5 L114.5 61.2 L115.0 61.0 L115.5 60.8 L116.0 60.6 L116.5 60.4 L117.0 60.2 L117.5 60.0 L118.0 59.8 L118.5 59.6 L119.0 59.4 L119.5 59.2 L120.0 59.0 L120.5 58.8 L121.0 58.6 L121.5 58.5 L122.0 58.3 L122.5 58.1 L123.0 57.9 L123.5 57.8 L124.0 57.6 L124.5 57.4 L125.0 57.2 L125.5 57.1 L126.0 56.9 L126.5 56.8 L127.0 56.6 L127.5 56.5 L128.0 56.3 L128.5 56.1 L129.0 56.0 L129.5 55.8 L130.0 55.7 L130.5 55.6 L131.0 55.4 L131.5 55.3 L132.0 55.1 L132.5 55.0 L133.0 54.8 L133.5 54.7 L134.0 54.6 L134.5 54.4 L135.0 54.3 L135.5 54.2 L136.0 54.0 L136.5 53.9 L137.0 53.8 L137.5 53.7 L138.0 53.5 L138.5 53.4 L139.0 53.3 L139.5 53.2 L140.0 53.1 L140.5 53.0 L141.0 52.9 L141.5 52.8 L142.0 52.7 L142.5 52.6 L143.0 52.5 L143.5 52.4 L144.0 52.3 L144.5 52.2 L145.0 52.1 L145.5 52.0 L146.0 51.9 L146.5 51.8 L147.0 51.8 L147.5 51.7 L148.0 51.6 L148.5 51.5 L149.0 51.4 L149.5 51.4 L150.0 51.3 L150.5 51.2 L151.0 51.2 L151.5 51.1 L152.0 51.0 L152.5 51.0 L153.0 50.9 L153.5 50.8 L154.0 50.8 L154.5 50.7 L155.0 50.7 L155.5 50.6 L156.0 50.6 L156.5 50.5 L157.0 50.5 L157.5 50.4 L158.0 50.4 L158.5 50.3 L159.0 50.3 L159.5 50.2 L160.0 50.2 L160.5 50.2 L161.0 50.1 L161.5 50.1 L162.0 50.1 L162.5 50.0 L163.0 50.0 L163.5 49.9 L164.0 49.9 L164.5 49.9 L165.0 49.9 L165.5 49.8 L166.0 49.8 L166.5 49.8 L167.0 49.8 L167.5 49.8 L168.0 49.8 L168.5 49.8 L169.0 49.8 L169.5 49.8 L170.0 49.8 L170.5 49.8 L171.0 49.9 L171.5 49.9 L172.0 49.9 L172.5 49.9 L173.0 49.9 L173.5 50.0 L174.0 50.0 L174.5 50.0 L175.0 50.0 L175.5 50.1 L176.0 50.1 L176.5 50.1 L177.0 50.1 L177.5 50.2 L178.0 50.2 L178.5 50.2 L179.0 50.3 L179.5 50.3 L180.0 50.3 L180.5 50.4 L181.0 50.4 L181.5 50.5 L182.0 50.5 L182.5 50.6 L183.0 50.6 L183.5 50.7 L184.0 50.7 L184.5 50.8 L185.0 50.9 L185.5 50.9 L186.0 51.0 L186.5 51.0 L187.0 51.1 L187.5 51.2 L188.0 51.2 L188.5 51.3 L189.0 51.4 L189.5 51.4 L190.0 51.5 L190.5 51.6 L191.0 51.6 L191.5 51.7 L192.0 51.8 L192.5 51.9 L193.0 51.9 L193.5 52.0 L194.0 52.1 L194.5 52.2 L195.0 52.3 L195.5 52.4 L196.0 52.4 L196.5 52.5 L197.0 52.6 L197.5 52.7 L198.0 52.8 L198.5 52.9 L199.0 53.0 L199.5 53.1 L200.0 53.2 L200.5 53.3 L201.0 53.4 L201.5 53.5 L202.0 53.6 L202.5 53.7 L203.0 53.8 L203.5 53.9 L204.0 54.0 L204.5 54.1 L205.0 54.2 L205.5 54.3 L206.0 54.4 L206.5 54.5 L207.0 54.6 L207.5 54.8 L208.0 54.9 L208.5 55.0 L209.0 55.1 L209.5 55.2 L210.0 55.3 L210.5 55.5 L211.0 55.6 L211.5 55.7 L212.0 55.8 L212.5 56.0 L213.0 56.1 L213.5 56.2 L214.0 56.3 L214.5 56.5 L215.0 56.6 L215.5 56.7 L216.0 56.8 L216.5 57.0 L217.0 57.1 L217.5 57.2 L218.0 57.4 L218.5 57.5 L219.0 57.6 L219.5 57.7 L220.0 57.8 L220.5 58.0 L221.0 58.1 L221.5 58.2 L222.0 58.3 L222.5 58.4 L223.0 58.6 L223.5 58.7 L224.0 58.8 L224.5 58.9 L225.0 59.0 L225.5 59.1 L226.0 59.2 L226.5 59.3 L227.0 59.5 L227.5 59.6 L228.0 59.7 L228.5 59.8 L229.0 59.9 L229.5 59.9 L230.0 60.0 L230.5 60.0 L231.0 60.1 L231.5 60.1 L232.0 60.2 L232.5 60.2 L233.0 60.2 L233.5 60.3 L234.0 60.3 L234.5 60.3 L235.0 60.3 L235.5 60.4 L236.0 60.4 L236.5 60.4 L237.0 60.4 L237.5 60.4 L238.0 60.4 L238.5 60.4 L239.0 60.3 L239.5 60.2 L240.0 60.1 L240.5 59.9 L241.0 59.7 L241.5 59.6 L242.0 59.3 L242.5 59.1 L243.0 58.9 L243.5 58.7 L244.0 58.5 L244.5 58.3 L245.0 58.1 L245.5 57.9 L246.0 57.7 L246.5 57.4 L247.0 57.2 L247.5 57.0 L248.0 56.7 L248.5 56.4 L249.0 56.2 L249.5 55.9 L250.0 55.6 L250.5 55.2 L251.0 54.9 L251.5 54.5 L252.0 54.1 L252.5 53.8 L253.0 53.3 L253.5 52.7 L254.0 52.1 L254.5 51.4 L255.0 50.7 L255.5 50.0 L256.0 49.2 L256.5 48.5 L257.0 47.7 L257.5 47.0 L258.0 46.3 L258.5 45.6 L259.0 44.8 L259.5 44.1 L260.0 43.3 L260.5 42.6 L261.0 41.9 L261.5 41.2 L262.0 40.6 L262.5 40.0 L263.0 39.5 L263.5 38.9 L264.0 38.4 L264.5 38.0 L265.0 37.5 L265.5 37.1 L266.0 36.7 L266.5 36.3 L267.0 36.0 L267.5 35.7 L268.0 35.4 L268.5 35.1 L269.0 34.8 L269.5 34.5 L270.0 34.3 L270.5 34.1 L271.0 33.9 L271.5 33.7 L272.0 33.6 L272.5 33.6 L273.0 33.6 L273.5 33.7 L274.0 33.8 L274.5 33.9 L275.0 34.0 L275.5 34.2 L276.0 34.4 L276.5 34.6 L277.0 34.9 L277.5 35.1 L278.0 35.3 L278.5 35.6 L279.0 35.8 L279.5 36.1 L280.0 36.3 L280.5 36.5 L281.0 36.8 L281.5 37.1 L282.0 37.4 L282.5 37.7 L283.0 37.9 L283.5 38.2 L284.0 38.5 L284.5 38.8 L285.0 39.0 L285.5 39.2 L286.0 39.5 L286.5 39.7 L287.0 40.0 L287.5 40.2 L288.0 40.4 L288.5 40.6 L289.0 40.8 L289.5 41.0 L290.0 41.1 L290.5 41.2 L291.0 41.2 L291.5 41.2 L292.0 41.1 L292.5 41.0 L293.0 40.9 L293.5 40.8 L294.0 40.6 L294.5 40.4 L295.0 40.2 L295.5 40.0 L296.0 39.8 L296.5 39.6 L297.0 39.4 L297.5 39.2 L298.0 39.0 L298.5 38.8 L299.0 38.6 L299.5 38.4 L300.0 38.2 L300.5 38.0 L301.0 37.8 L301.5 37.5 L302.0 37.3 L302.5 37.1 L303.0 36.9 L303.5 36.6 L304.0 36.4 L304.5 36.2 L305.0 36.0 L305.5 35.8 L306.0 35.6 L306.5 35.3 L307.0 35.1 L307.5 34.9 L308.0 34.7 L308.5 34.5 L309.0 34.3 L309.5 34.1 L310.0 33.9 L310.5 33.8 L311.0 33.7 L311.5 33.5 L312.0 33.4 L312.5 33.3 L313.0 33.1 L313.5 33.0 L314.0 32.9 L314.5 32.8 L315.0 32.7 L315.5 32.7 L316.0 32.6 L316.5 32.6 L317.0 32.6 L317.5 32.6 L318.0 32.7 L318.5 32.8 L319.0 32.9 L319.5 33.0 L320.0 33.2 L320.5 33.4 L321.0 33.5 L321.5 33.7 L322.0 33.9 L322.5 34.1 L323.0 34.3 L323.5 34.5 L324.0 34.7 L324.5 34.8 L325.0 35.0 L325.5 35.1 L326.0 35.3 L326.5 35.4 L327.0 35.6 L327.5 35.7 L328.0 35.9 L328.5 36.0 L329.0 36.2 L329.5 36.3 L330.0 36.5 L330.5 36.7 L331.0 36.9 L331.5 37.1 L332.0 37.4 L332.5 37.6 L333.0 37.8 L333.5 38.0 L334.0 38.1 L334.5 38.1 L335.0 38.1 L335.5 38.0 L336.0 37.9 L336.5 37.8 L337.0 37.6 L337.5 37.5 L338.0 37.3 L338.5 37.1 L339.0 36.9 L339.5 36.7 L340.0 36.5 L340.5 36.3 L341.0 36.1 L341.5 35.9 L342.0 35.7 L342.5 35.4 L343.0 35.2 L343.5 35.0 L344.0 34.7 L344.5 34.5 L345.0 34.3 L345.5 34.1 L346.0 33.8 L346.5 33.6 L347.0 33.3 L347.5 33.1 L348.0 32.9 L348.5 32.6 L349.0 32.5 L349.5 32.3 L350.0 32.2 L350.5 32.2 L351.0 32.2 L351.5 32.2 L352.0 32.2 L352.5 32.3 L353.0 32.3 L353.5 32.4 L354.0 32.4 L354.5 32.4 L355.0 32.5 L355.5 32.6 L356.0 32.7 L356.5 32.8 L357.0 33.0 L357.5 33.2 L358.0 33.3 L358.5 33.5 L359.0 33.7 L359.5 33.8 L360.0 33.9 L360.5 34.0 L361.0 34.0 L361.5 34.0 L362.0 34.0 L362.5 33.9 L363.0 33.9 L363.5 33.8 L364.0 33.7 L364.5 33.6 L365.0 33.6 L365.5 33.5 L366.0 33.4 L366.5 33.3 L367.0 33.2 L367.5 33.1 L368.0 33.0 L368.5 32.9 L369.0 32.7 L369.5 32.6 L370.0 32.4 L370.5 32.3 L371.0 32.2 L371.5 32.0 L372.0 31.9 L372.5 31.8 L373.0 31.8 L373.5 31.7 L374.0 31.7 L374.5 31.6 L375.0 31.6 L375.5 31.6 L376.0 31.5 L376.5 31.5 L377.0 31.5 L377.5 31.5 L378.0 31.4 L378.5 31.4 L379.0 31.4 L379.5 31.4 L380.0 31.4 L380.5 31.4 L381.0 31.4 L381.5 31.5 L382.0 31.5 L382.5 31.6 L383.0 31.6 L383.5 31.7 L384.0 31.8 L384.5 31.8 L385.0 31.9 L385.5 32.0 L386.0 32.1 L386.5 32.2 L387.0 32.3 L387.5 32.4 L388.0 32.4 L388.5 32.5 L389.0 32.6 L389.5 32.6 L390.0 32.7 L390.5 32.7 L391.0 32.8 L391.5 32.8 L392.0 32.8 L392.5 32.8 L393.0 32.8 L393.5 32.8 L394.0 32.7 L394.5 32.7 L395.0 32.7 L395.5 32.6 L396.0 32.6 L396.5 32.5 L397.0 32.5 L397.5 32.4 L398.0 32.4 L398.5 32.3 L399.0 32.3 L399.5 32.2 L400.0 32.2 L400.5 32.2 L401.0 32.1 L401.5 32.1 L402.0 32.1 L402.5 32.0 L403.0 32.0 L403.5 32.0 L404.0 31.9 L404.5 31.9 L405.0 31.9 L405.5 31.8 L406.0 31.8 L406.5 31.8 L407.0 31.8 L407.5 31.7 L408.0 31.7 L408.5 31.7 L409.0 31.6 L409.5 31.6 L410.0 31.6 L410.5 31.6 L411.0 31.6 L411.5 31.5 L412.0 31.5 L412.5 31.5 L413.0 31.5 L413.5 31.4 L414.0 31.4 L414.5 31.4 L415.0 31.4 L415.5 31.4 L416.0 31.3 L416.5 31.3 L417.0 31.3 L417.5 31.3 L418.0 31.3 L418.5 31.2 L419.0 31.2 L419.5 31.2 L420.0 31.2 L420.5 31.2 L421.0 31.2 L421.5 31.2 L422.0 31.1 L422.5 31.1 L423.0 31.1 L423.5 31.1 L424.0 31.1 L424.5 31.1 L425.0 31.1 L425.5 31.1 L426.0 31.0 L426.5 31.0 L427.0 31.0 L427.5 31.0 L428.0 31.0 L428.5 31.0 L429.0 31.0 L429.5 31.0 L430.0 31.0 L430.5 30.9 L431.0 30.9 L431.5 30.9 L432.0 30.9 L432.5 30.9 L433.0 30.9 L433.5 30.9 L434.0 30.9 L434.5 30.9 L435.0 30.9 L435.5 30.8 L436.0 30.8 L436.5 30.8 L437.0 30.8 L437.5 30.8 L438.0 30.8 L438.5 30.8 L439.0 30.8 L439.5 30.8 L440.0 30.8 L440.5 30.8 L441.0 30.8 L441.5 30.8 L442.0 30.7 L442.5 30.7 L443.0 30.7 L443.5 30.7 L444.0 30.7 L444.5 30.7 L445.0 30.7 L445.5 30.7 L446.0 30.7 L446.5 30.7 L447.0 30.7 L447.5 30.7 L448.0 30.7 L448.5 30.7 L449.0 30.7" stroke="#eda50a" stroke-dasharray="6.3 1.9 1.5 1.9"/>
<path d="M39.0 138.8 L39.5 138.5 L40.0 138.2 L40.5 138.0 L41.0 137.7 L41.5 137.4 L42.0 137.1 L42.5 136.9 L43.0 136.6 L43.5 136.3 L44.0 136.0 L44.5 135.8 L45.0 135.5 L45.5 135.2 L46.0 134.9 L46.5 134.6 L47.0 134.4 L47.5 134.1 L48.0 133.8 L48.5 133.5 L49.0 133.2 L49.5 133.0 L50.0 132.7 L50.5 132.4 L51.0 132.1 L51.5 131.8 L52.0 131.6 L52.5 131.3 L53.0 131.0 L53.5 130.7 L54.0 130.4 L54.5 130.1 L55.0 129.9 L55.5 129.6 L56.0 129.3 L56.5 129.0 L57.0 128.7 L57.5 128.4 L58.0 128.1 L58.5 127.9 L59.0 127.6 L59.5 127.3 L60.0 127.0 L60.5 126.7 L61.0 126.4 L61.5 126.1 L62.0 125.9 L62.5 125.6 L63.0 125.3 L63.5 125.0 L64.0 124.7 L64.5 124.5 L65.0 124.2 L65.5 123.9 L66.0 123.6 L66.5 123.3 L67.0 123.1 L67.5 122.8 L68.0 122.5 L68.5 122.2 L69.0 122.0 L69.5 121.7 L70.0 121.4 L70.5 121.1 L71.0 120.8 L71.5 120.6 L72.0 120.3 L72.5 120.0 L73.0 119.7 L73.5 119.4 L74.0 119.1 L74.5 118.8 L75.0 118.5 L75.5 118.3 L76.0 118.0 L76.5 117.7 L77.0 117.4 L77.5 117.1 L78.0 116.8 L78.5 116.5 L79.0 116.1 L79.5 115.8 L80.0 115.5 L80.5 115.2 L81.0 114.9 L81.5 114.6 L82.0 114.2 L82.5 113.9 L83.0 113.6 L83.5 113.2 L84.0 112.9 L84.5 112.6 L85.0 112.2 L85.5 111.9 L86.0 111.5 L86.5 111.1 L87.0 110.8 L87.5 110.4 L88.0 110.0 L88.5 109.7 L89.0 109.3 L89.5 108.9 L90.0 108.5 L90.5 108.1 L91.0 107.7 L91.5 107.3 L92.0 106.9 L92.5 106.5 L93.0 106.1 L93.5 105.7 L94.0 105.3 L94.5 104.9 L95.0 104.5 L95.5 104.1 L96.0 103.7 L96.5 103.3 L97.0 102.9 L97.5 102.5 L98.0 102.1 L98.5 101.7 L99.0 101.3 L99.5 100.9 L100.0 100.5 L100.5 100.1 L101.0 99.7 L101.5 99.3 L102.0 98.9 L102.5 98.5 L103.0 98.1 L103.5 97.7 L104.0 97.3 L104.5 96.9 L105.0 96.5 L105.5 96.0 L106.0 95.6 L106.5 95.2 L107.0 94.8 L107.5 94.4 L108.0 94.0 L108.5 93.6 L109.0 93.2 L109.5 92.7 L110.0 92.3 L110.5 91.9 L111.0 91.5 L111.5 91.1 L112.0 90.7 L112.5 90.2 L113.0 89.8 L113.5 89.4 L114.0 89.0 L114.5 88.6 L115.0 88.1 L115.5 87.7 L116.0 87.3 L116.5 86.9 L117.0 86.5 L117.5 86.1 L118.0 85.6 L118.5 85.2 L119.0 84.8 L119.5 84.4 L120.0 84.0 L120.5 83.5 L121.0 83.1 L121.5 82.7 L122.0 82.3 L122.5 81.9 L123.0 81.5 L123.5 81.1 L124.0 80.7 L124.5 80.2 L125.0 79.8 L125.5 79.4 L126.0 79.0 L126.5 78.6 L127.0 78.2 L127.5 77.8 L128.0 77.4 L128.5 77.0 L129.0 76.6 L129.5 76.2 L130.0 75.8 L130.5 75.4 L131.0 75.0 L131.5 74.6 L132.0 74.2 L132.5 73.8 L133.0 73.4 L133.5 73.0 L134.0 72.6 L134.5 72.2 L135.0 71.8 L135.5 71.4 L136.0 71.0 L136.5 70.6 L137.0 70.2 L137.5 69.8 L138.0 69.5 L138.5 69.1 L139.0 68.7 L139.5 68.3 L140.0 67.9 L140.5 67.5 L141.0 67.1 L141.5 66.7 L142.0 66.3 L142.5 65.9 L143.0 65.6 L143.5 65.2 L144.0 64.8 L144.5 64.4 L145.0 64.0 L145.5 63.6 L146.0 63.2 L146.5 62.8 L147.0 62.4 L147.5 62.0 L148.0 61.6 L148.5 61.2 L149.0 60.8 L149.5 60.4 L150.0 60.0 L150.5 59.6 L151.0 59.2 L151.5 58.8 L152.0 58.4 L152.5 58.0 L153.0 57.6 L153.5 57.2 L154.0 56.8 L154.5 56.4 L155.0 56.0 L155.5 55.6 L156.0 55.3 L156.5 54.9 L157.0 54.5 L157.5 54.1 L158.0 53.7 L158.5 53.4 L159.0 53.0 L159.5 52.6 L160.0 52.3 L160.5 51.9 L161.0 51.6 L161.5 51.2 L162.0 50.9 L162.5 50.6 L163.0 50.2 L163.5 49.9 L164.0 49.6 L164.5 49.3 L165.0 49.0 L165.5 48.7 L166.0 48.4 L166.5 48.1 L167.0 47.8 L167.5 47.5 L168.0 47.2 L168.5 46.9 L169.0 46.6 L169.5 46.3 L170.0 46.1 L170.5 45.8 L171.0 45.5 L171.5 45.2 L172.0 45.0 L172.5 44.7 L173.0 44.4 L173.5 44.2 L174.0 43.9 L174.5 43.7 L175.0 43.4 L175.5 43.2 L176.0 42.9 L176.5 42.7 L177.0 42.4 L177.5 42.2 L178.0 41.9 L178.5 41.7 L179.0 41.5 L179.5 41.2 L180.0 41.0 L180.5 40.8 L181.0 40.5 L181.5 40.3 L182.0 40.1 L182.5 39.9 L183.0 39.6 L183.5 39.4 L184.0 39.2 L184.5 39.0 L185.0 38.7 L185.5 38.5 L186.0 38.3 L186.5 38.1 L187.0 37.9 L187.5 37.7 L188.0 37.5 L188.5 37.3 L189.0 37.1 L189.5 36.9 L190.0 36.7 L190.5 36.5 L191.0 36.3 L191.5 36.1 L192.0 35.9 L192.5 35.8 L193.0 35.6 L193.5 35.4 L194.0 35.3 L194.5 35.1 L195.0 35.0 L195.5 34.9 L196.0 34.7 L196.5 34.6 L197.0 34.5 L197.5 34.3 L198.0 34.2 L198.5 34.1 L199.0 33.9 L199.5 33.8 L200.0 33.7 L200.5 33.6 L201.0 33.5 L201.5 33.4 L202.0 33.3 L202.5 33.2 L203.0 33.1 L203.5 33.0 L204.0 32.9 L204.5 32.9 L205.0 32.8 L205.5 32.7 L206.0 32.7 L206.5 32.6 L207.0 32.5 L207.5 32.5 L208.0 32.4 L208.5 32.4 L209.0 32.3 L209.5 32.2 L210.0 32.2 L210.5 32.2 L211.0 32.1 L211.5 32.1 L212.0 32.0 L212.5 32.0 L213.0 32.0 L213.5 32.0 L214.0 32.0 L214.5 32.0 L215.0 32.0 L215.5 32.1 L216.0 32.1 L216.5 32.1 L217.0 32.2 L217.5 32.2 L218.0 32.3 L218.5 32.3 L219.0 32.4 L219.5 32.4 L220.0 32.5 L220.5 32.6 L221.0 32.7 L221.5 32.7 L222.0 32.8 L222.5 32.9 L223.0 33.0 L223.5 33.1 L224.0 33.2 L224.5 33.3 L225.0 33.4 L225.5 33.5 L226.0 33.7 L226.5 33.8 L227.0 34.0 L227.5 34.1 L228.0 34.3 L228.5 34.5 L229.0 34.6 L229.5 34.8 L230.0 35.0 L230.5 35.2 L231.0 35.4 L231.5 35.6 L232.0 35.9 L232.5 36.1 L233.0 36.4 L233.5 36.7 L234.0 37.0 L234.5 37.3 L235.0 37.6 L235.5 37.9 L236.0 38.2 L236.5 38.5 L237.0 38.8 L237.5 39.1 L238.0 39.5 L238.5 39.8 L239.0 40.2 L239.5 40.5 L240.0 40.9 L240.5 41.3 L241.0 41.7 L241.5 42.1 L242.0 42.6 L242.5 43.0 L243.0 43.5 L243.5 43.9 L244.0 44.4 L244.5 44.9 L245.0 45.3 L245.5 45.8 L246.0 46.4 L246.5 46.9 L247.0 47.4 L247.5 48.0 L248.0 48.6 L248.5 49.2 L249.0 49.8 L249.5 50.5 L250.0 51.1 L250.5 51.9 L251.0 52.6 L251.5 53.4 L252.0 54.2 L252.5 55.0 L253.0 55.9 L253.5 56.9 L254.0 58.1 L254.5 59.3 L255.0 60.6 L255.5 61.9 L256.0 63.3 L256.5 64.8 L257.0 66.3 L257.5 67.8 L258.0 69.4 L258.5 70.9 L259.0 72.5 L259.5 74.1 L260.0 75.7 L260.5 77.3 L261.0 79.0 L261.5 80.8 L262.0 82.6 L262.5 84.4 L263.0 86.3 L263.5 88.3 L264.0 90.3 L264.5 92.3 L265.0 94.5 L265.5 96.8 L266.0 99.2 L266.5 101.6 L267.0 104.1 L267.5 106.7 L268.0 109.2 L268.5 111.8 L269.0 114.3 L269.5 116.7 L270.0 119.1 L270.5 121.5 L271.0 124.0 L271.5 126.6 L272.0 129.2 L272.5 131.6 L273.0 134.0 L273.5 136.1 L274.0 137.9 L274.5 139.5 L275.0 140.9 L275.5 142.3 L276.0 143.6 L276.5 144.7 L277.0 145.5 L277.5 146.0 L278.0 145.9 L278.5 145.6 L279.0 144.9 L279.5 144.0 L280.0 142.9 L280.5 141.5 L281.0 140.1 L281.5 138.2 L282.0 134.9 L282.5 130.2 L283.0 124.9 L283.5 119.3 L284.0 113.9 L284.5 109.2 L285.0 105.6 L285.5 102.8 L286.0 100.4 L286.5 98.1 L287.0 95.9 L287.5 93.6 L288.0 91.0 L288.5 88.0 L289.0 84.8 L289.5 81.4 L290.0 78.0 L290.5 74.6 L291.0 70.9 L291.5 67.1 L292.0 63.4 L292.5 60.0 L293.0 57.0 L293.5 54.5 L294.0 52.3 L294.5 50.2 L295.0 48.3 L295.5 46.5 L296.0 44.8 L296.5 43.2 L297.0 41.7 L297.5 40.5 L298.0 39.5 L298.5 38.5 L299.0 37.7 L299.5 37.0 L300.0 36.3 L300.5 35.7 L301.0 35.2 L301.5 34.7 L302.0 34.2 L302.5 33.7 L303.0 33.4 L303.5 33.0 L304.0 32.8 L304.5 32.6 L305.0 32.4 L305.5 32.2 L306.0 32.1 L306.5 31.9 L307.0 31.8 L307.5 31.8 L308.0 31.8 L308.5 31.9 L309.0 32.0 L309.5 32.2 L310.0 32.4 L310.5 32.7 L311.0 32.9 L311.5 33.2 L312.0 33.5 L312.5 33.9 L313.0 34.4 L313.5 34.9 L314.0 35.5 L314.5 36.2 L315.0 36.9 L315.5 37.6 L316.0 38.3 L316.5 39.0 L317.0 39.8 L317.5 40.5 L318.0 41.2 L318.5 42.0 L319.0 42.7 L319.5 43.5 L320.0 44.3 L320.5 45.2 L321.0 46.0 L321.5 47.0 L322.0 47.9 L322.5 48.9 L323.0 50.0 L323.5 51.2 L324.0 52.4 L324.5 53.8 L325.0 55.3 L325.5 56.8 L326.0 58.4 L326.5 60.0 L327.0 61.5 L327.5 63.1 L328.0 64.7 L328.5 66.2 L329.0 67.7 L329.5 69.4 L330.0 71.1 L330.5 73.1 L331.0 75.2 L331.5 78.0 L332.0 81.4 L332.5 85.0 L333.0 88.7 L333.5 91.9 L334.0 94.7 L334.5 97.1 L335.0 99.5 L335.5 101.8 L336.0 104.1 L336.5 106.5 L337.0 109.5 L337.5 112.8 L338.0 115.8 L338.5 118.0 L339.0 118.9 L339.5 117.5 L340.0 114.1 L340.5 109.9 L341.0 106.0 L341.5 102.9 L342.0 99.9 L342.5 96.6 L343.0 92.5 L343.5 86.3 L344.0 78.9 L344.5 72.7 L345.0 67.4 L345.5 62.6 L346.0 58.4 L346.5 54.6 L347.0 51.5 L347.5 48.8 L348.0 46.2 L348.5 43.7 L349.0 41.5 L349.5 39.5 L350.0 37.8 L350.5 36.5 L351.0 35.3 L351.5 34.2 L352.0 33.2 L352.5 32.3 L353.0 31.6 L353.5 31.3 L354.0 31.2 L354.5 31.3 L355.0 31.5 L355.5 31.9 L356.0 32.2 L356.5 32.7 L357.0 33.2 L357.5 33.7 L358.0 34.6 L358.5 35.7 L359.0 37.1 L359.5 38.5 L360.0 40.0 L360.5 41.5 L361.0 43.0 L361.5 44.7 L362.0 46.4 L362.5 48.0 L363.0 49.4 L363.5 50.6 L364.0 51.7 L364.5 52.8 L365.0 54.0 L365.5 55.2 L366.0 56.6 L366.5 58.1 L367.0 60.0 L367.5 62.7 L368.0 66.3 L368.5 70.2 L369.0 73.8 L369.5 76.5 L370.0 79.1 L370.5 81.4 L371.0 83.6 L371.5 85.5 L372.0 87.2 L372.5 88.5 L373.0 89.8 L373.5 91.0 L374.0 92.0 L374.5 92.7 L375.0 93.0 L375.5 92.7 L376.0 91.7 L376.5 90.2 L377.0 88.3 L377.5 85.7 L378.0 79.2 L378.5 70.5 L379.0 61.9 L379.5 55.8 L380.0 50.4 L380.5 45.3 L381.0 41.1 L381.5 38.0 L382.0 36.3 L382.5 34.9 L383.0 33.6 L383.5 32.6 L384.0 31.8 L384.5 31.2 L385.0 30.9 L385.5 31.0 L386.0 31.2 L386.5 31.7 L387.0 32.4 L387.5 33.2 L388.0 34.0 L388.5 35.1 L389.0 36.6 L389.5 38.4 L390.0 40.3 L390.5 42.0 L391.0 43.6 L391.5 45.2 L392.0 46.8 L392.5 48.4 L393.0 50.0 L393.5 51.6 L394.0 53.1 L394.5 54.7 L395.0 56.3 L395.5 58.0 L396.0 59.9 L396.5 62.1 L397.0 64.3 L397.5 66.3 L398.0 68.0 L398.5 69.6 L399.0 71.1 L399.5 72.4 L400.0 73.2 L400.5 73.2 L401.0 71.6 L401.5 68.9 L402.0 66.0 L402.5 62.8 L403.0 59.0 L403.5 55.1 L404.0 50.6 L404.5 46.0 L405.0 41.9 L405.5 38.8 L406.0 35.9 L406.5 33.2 L407.0 31.2 L407.5 30.5 L408.0 30.7 L408.5 31.2 L409.0 31.9 L409.5 32.7 L410.0 33.6 L410.5 35.0 L411.0 36.7 L411.5 38.5 L412.0 40.2 L412.5 41.8 L413.0 43.4 L413.5 44.9 L414.0 46.5 L414.5 48.1 L415.0 49.5 L415.5 50.9 L416.0 52.1 L416.5 53.1 L417.0 54.1 L417.5 55.1 L418.0 56.1 L418.5 56.9 L419.0 57.5 L419.5 57.8 L420.0 57.5 L420.5 56.1 L421.0 53.8 L421.5 51.0 L422.0 48.2 L422.5 45.7 L423.0 43.2 L423.5 40.6 L424.0 38.1 L424.5 35.9 L425.0 34.0 L425.5 32.1 L426.0 30.8 L426.5 30.5 L427.0 30.9 L427.5 31.6 L428.0 32.5 L428.5 34.0 L429.0 36.2 L429.5 38.5 L430.0 40.2 L430.5 41.7 L431.0 43.1 L431.5 44.3 L432.0 45.4 L432.5 46.4 L433.0 47.3 L433.5 48.2 L434.0 48.8 L434.5 48.8 L435.0 48.1 L435.5 46.7 L436.0 45.2 L436.5 43.7 L437.0 42.2 L437.5 40.4 L438.0 38.6 L438.5 36.9 L439.0 35.4 L439.5 34.0 L440.0 32.5 L440.5 31.3 L441.0 30.6 L441.5 30.5 L442.0 30.7 L442.5 31.1 L443.0 31.5 L443.5 32.0 L444.0 32.7 L444.5 33.8 L445.0 35.1 L445.5 36.6 L446.0 38.2 L446.5 39.8 L447.0 41.3 L447.5 42.7 L448.0 43.8 L448.5 44.9 L449.0 46.0" stroke="#7518a0" stroke-width="1.85" stroke-dasharray="1.35 1.6"/>
</g>
<text x="34.5" y="169.90" font-size="12.4" text-anchor="end">0</text>
<text x="34.5" y="142.77" font-size="12.4" text-anchor="end">0.2</text>
<text x="34.5" y="115.65" font-size="12.4" text-anchor="end">0.4</text>
<text x="34.5" y="88.52" font-size="12.4" text-anchor="end">0.6</text>
<text x="34.5" y="61.39" font-size="12.4" text-anchor="end">0.8</text>
<text x="34.5" y="34.26" font-size="12.4" text-anchor="end">1</text>
<text x="91.41" y="186.5" font-size="12.4">10</text>
<text x="105.61" y="180.8" font-size="10">2</text>
<text x="295.23" y="186.5" font-size="12.4">10</text>
<text x="309.43" y="180.8" font-size="10">3</text>
<text x="244" y="203.2" font-size="13.9" text-anchor="middle">Frequency [Hz]</text>
<text x="240.8" y="232.5" font-size="17.6" text-anchor="middle">(a)</text>
<g transform="translate(7.6,106.6) rotate(-90)"><text x="0" y="0" font-size="12.2">α<tspan dy="4.2" font-size="11">norm</tspan></text></g>
<rect x="394.4" y="83.0" width="52.5" height="78.7" fill="#fff" stroke="#444" stroke-width="1.3"/>
<line x1="397.2" x2="418.4" y1="93.9" y2="93.9" stroke="#0666c2" stroke-width="2"/>
<text x="420.6" y="95.8" font-size="11.3">CE<tspan dy="6.2" font-size="9.4">A</tspan></text>
<line x1="397.2" x2="418.4" y1="112.9" y2="112.9" stroke="#d9400f" stroke-width="2" stroke-dasharray="5.8 5.4"/>
<text x="420.6" y="114.8" font-size="11.3">CE<tspan dy="6.2" font-size="9.4">B</tspan></text>
<line x1="397.2" x2="418.4" y1="131.7" y2="131.7" stroke="#eda50a" stroke-width="2" stroke-dasharray="6 2 1.7 1.9"/>
<text x="420.6" y="133.6" font-size="11.3">CE<tspan dy="6.2" font-size="9.4">C</tspan></text>
<line x1="397.2" x2="418.4" y1="150.9" y2="150.9" stroke="#7518a0" stroke-width="2" stroke-dasharray="1.6 1.3"/>
<text x="420.6" y="152.8" font-size="11.3">CE<tspan dy="6.2" font-size="9.4">D</tspan></text>
</svg>
</body></html>
